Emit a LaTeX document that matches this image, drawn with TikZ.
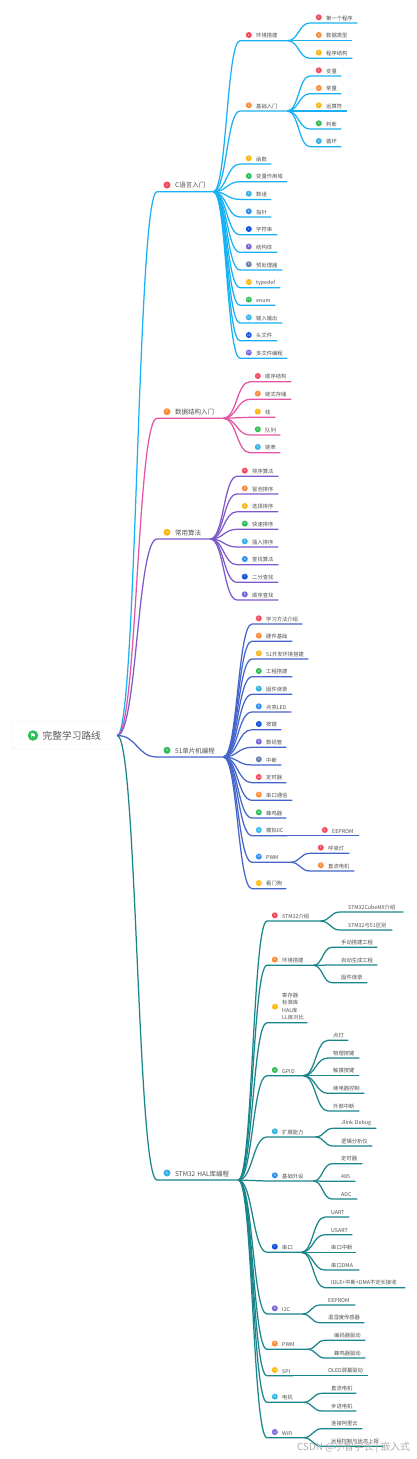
\documentclass[tikz,border=0pt]{standalone}
\usepackage{fontspec}
\setmainfont{Noto Sans CJK SC}
\newfontfamily\symbolfont{DejaVu Sans}
\usetikzlibrary{calc}

\definecolor{cred}{HTML}{F5495D}
\definecolor{corange}{HTML}{FB8C3C}
\definecolor{cyellow}{HTML}{FDB813}
\definecolor{cgreen}{HTML}{2FBE55}
\definecolor{clight}{HTML}{36B3E6}
\definecolor{cblue}{HTML}{2F8FF0}
\definecolor{cdark}{HTML}{1452E0}
\definecolor{cpurple}{HTML}{7A67D8}
\definecolor{cslate}{HTML}{6D7FA8}
\definecolor{wireC}{HTML}{18B2F4}
\definecolor{wireDS}{HTML}{E455A5}
\definecolor{wireAlgo}{HTML}{7F58CC}
\definecolor{wireMCU}{HTML}{4565CB}
\definecolor{wireHAL}{HTML}{1A858B}
\definecolor{inkgray}{HTML}{505050}

\tikzset{
    branch/.style={to path={let \p1=(\tikztostart), \p2=(\tikztotarget), \n1={\x1*.5+\x2*.5} in .. controls (\n1,\y1) and (\n1,\y2) .. (\tikztotarget)}},
    topic/.style={anchor=south west, inner xsep=0pt, inner ysep=2.2pt, align=left, text=inkgray, font=\fontsize{5.3}{7.6}\selectfont},
    headtopic/.style={topic, inner ysep=3pt, font=\fontsize{6.5}{8}\selectfont},
    dot/.style={circle, inner sep=0pt, minimum size=6pt, text=white, font=\fontsize{3.2}{3.2}\selectfont},
    wire/.style={line width=1.25pt}
}

% items with a numbered dot: id/start/end/y/colour/number/indent/text
\newcommand{\dotbranch}[3]{%
    \foreach \id/\xa/\xb/\yy/\bcol/\num/\ind/\txt in {#3}{
        \node[topic, text width={(\xb-\xa)*1pt}] (\id) at (\xa,\yy) {\hspace*{\ind pt}\txt};
        \node[dot, fill=\bcol] (\id dot) at ({\xa+\ind-7.2},{\yy-5.7}) {\num};
        \draw[wire, #2] (#1.south east) to[branch] (\id.south west) -- (\id.south east);
    }%
}
% items without a dot: id/start/end/y/indent/text
\newcommand{\plainbranch}[3]{%
    \foreach \id/\xa/\xb/\yy/\ind/\txt in {#3}{
        \node[topic, text width={(\xb-\xa)*1pt}] (\id) at (\xa,\yy) {\hspace*{\ind pt}\txt};
        \draw[wire, #2] (#1.south east) to[branch] (\id.south west) -- (\id.south east);
    }%
}

\begin{document}
\begin{tikzpicture}[x=1pt, y=-1pt]
    \useasboundingbox (0,0) rectangle (416,1459);
    \fill[white] (0,0) rectangle (416,1459);

    % --- Root ---
    \node[draw=black!8, fill=white, rounded corners=3pt, minimum width=105pt, minimum height=27pt, inner sep=0pt] (root) at (64.5,735.5) {};
    \node[circle, fill=cgreen, inner sep=0pt, minimum size=10.5pt, text=white, font=\symbolfont\fontsize{7}{7}\selectfont] (rootflag) at (33,735.5) {⚑};
    \node[anchor=west, inner sep=0pt, text=black!65, font=\fontsize{9.7}{11}\selectfont] (roottext) at (42.5,735.5) {完整学习路线};

    % --- Five main topics ---
    \node[headtopic, text width=56pt] (cstart) at (157,191.7) {\hspace*{18pt}C语言入门};
    \node[dot, minimum size=7pt, fill=cred] (cstartdot) at (167,185) {1};
    \draw[wire, wireC] (root.east) to[branch] (cstart.south west) -- (cstart.south east);

    \node[headtopic, text width=66pt] (dstruct) at (157,418.3) {\hspace*{18pt}数据结构入门};
    \node[dot, minimum size=7pt, fill=corange] (dstructdot) at (167,411.7) {2};
    \draw[wire, wireDS] (root.east) to[branch] (dstruct.south west) -- (dstruct.south east);

    \node[headtopic, text width=53pt] (algo) at (157,539) {\hspace*{18pt}常用算法};
    \node[dot, minimum size=7pt, fill=cyellow] (algodot) at (167,532.3) {3};
    \draw[wire, wireAlgo] (root.east) to[branch] (algo.south west) -- (algo.south east);

    \node[headtopic, text width=66pt] (mcu) at (157,757) {\hspace*{18pt}51单片机编程};
    \node[dot, minimum size=7pt, fill=cgreen] (mcudot) at (167,750.3) {4};
    \draw[wire, wireMCU] (root.east) to[branch] (mcu.south west) -- (mcu.south east);

    \node[headtopic, text width=81pt] (hal) at (157,1180) {\hspace*{18pt}STM32 HAL库编程};
    \node[dot, minimum size=7pt, fill=clight] (haldot) at (167,1173) {5};
    \draw[wire, wireHAL] (root.east) to[branch] (hal.south west) -- (hal.south east);

    % --- C language ---
    \dotbranch{cstart}{wireC}{
        cenv/240/287/40.7/cred/1/16/环境搭建,
        cbase/240/287/111/corange/2/16/基础入门,
        cfunc/240/271/164/cyellow/3/16/函数,
        cscope/240/287/181.7/cgreen/4/16/变量作用域,
        carray/240/271/199.4/clight/5/16/数组,
        cptr/240/271/217/cblue/6/16/指针,
        cstr/240/277/234.7/cdark/7/16/字符串,
        cstruct/240/277/252.3/cpurple/8/16/结构体,
        cpre/240/282/270/cslate/9/16/预处理器,
        ctype/240/280/287.7/cyellow/10/16/typedef,
        cenum/240/275/305.3/cgreen/11/16/enum,
        cio/240/282/323/clight/12/16/输入输出,
        chead/240/277/340.7/cdark/13/16/头文件,
        cmulti/240/287/358.3/cpurple/14/16/多文件编程}
    \dotbranch{cenv}{wireC}{
        cenva/310/357/23/cred/1/16/第一个程序,
        cenvb/310/352/40.7/corange/2/16/数据类型,
        cenvc/310/352/58.3/cyellow/3/16/程序结构}
    \dotbranch{cbase}{wireC}{
        cbasea/310/341/76/cred/1/16/变量,
        cbaseb/310/341/93.7/corange/2/16/常量,
        cbasec/310/347/111/cyellow/3/16/运算符,
        cbased/310/341/129/cgreen/4/16/判断,
        cbasee/310/341/146.7/clight/5/16/循环}

    % --- Data structures ---
    \dotbranch{dstruct}{wireDS}{
        dsa/250/291/381.7/cred/1/15/顺序结构,
        dsb/250/291/399.3/corange/2/15/链式存储,
        dsc/250/275/417.3/cyellow/3/15/栈,
        dsd/250/280/435/cgreen/4/15/队列,
        dse/250/280/452.7/clight/5/15/链表}

    % --- Algorithms ---
    \dotbranch{algo}{wireAlgo}{
        aga/237/278/476.3/cred/1/15/排序算法,
        agb/237/278/494/corange/2/15/冒泡排序,
        agc/237/278/511.7/cyellow/3/15/选择排序,
        agd/237/278/529.3/cgreen/4/15/快速排序,
        age/237/278/547/clight/5/15/插入排序,
        agf/237/278/564.7/cblue/6/15/查找算法,
        agg/237/278/582.3/cdark/7/15/二分查找,
        agh/237/278/600/cpurple/8/15/顺序查找}

    % --- 51 MCU ---
    \dotbranch{mcu}{wireMCU}{
        mcua/252/302/624/cred/1/14/学习方法介绍,
        mcub/252/292/641.3/corange/2/14/硬件基础,
        mcuc/252/308/659/cyellow/3/14/51开发环境搭建,
        mcud/252/292/676.7/cgreen/4/14/工程搭建,
        mcue/252/292/694.3/clight/5/14/固件烧录,
        mcuf/252/291/712/cblue/6/14/点亮LED,
        mcug/252/281/729.7/cdark/7/14/按键,
        mcuh/252/286/747.3/cpurple/8/14/数码管,
        mcui/252/281/765/cslate/9/14/中断,
        mcuj/252/286/782.7/cred/10/14/定时器,
        mcuk/252/292/800.3/corange/11/14/串口通信,
        mcul/252/286/818/cgreen/12/14/蜂鸣器,
        mcum/252/287/835.7/clight/13/14/模拟IIC,
        mcun/252/290/862.3/cblue/14/14/PWM,
        mcuo/252/286/888.7/cyellow/15/14/看门狗}
    \dotbranch{mcum}{wireMCU}{
        mcuma/287/359/835.7/cred/1/45/EEPROM}
    \dotbranch{mcun}{wireMCU}{
        mcuna/310/349/853.3/cred/1/18/呼吸灯,
        mcunb/310/354/871/corange/2/18/直流电机}

    % --- STM32 HAL ---
    \dotbranch{hal}{wireHAL}{
        hala/267/320/921/cred/1/15/STM32介绍,
        halb/267/313/965.3/corange/2/15/环境搭建,
        hald/267/303/1075.7/cgreen/4/15/GPIO,
        hale/267/315/1137/clight/5/15/扩展能力,
        half/267/313/1181/cblue/6/15/基础外设,
        halg/267/301/1252.3/cdark/7/15/串口,
        halh/267/302/1314/cpurple/8/15/I2C,
        hali/267/307/1349.3/corange/9/15/PWM,
        halj/267/293/1375.7/cyellow/10/15/SPI,
        halk/267/303/1402.3/clight/11/15/电机,
        hall/267/303/1437.7/cpurple/12/15/WiFi}
    \node[topic, text width=40pt] (halc) at (267,1022.7) {\hspace*{15pt}寄存器\\\hspace*{15pt}标准库\\\hspace*{15pt}HAL库\\\hspace*{15pt}LL库对比};
    \node[dot, fill=cyellow] (halcdot) at (275,1006.7) {3};
    \draw[wire, wireHAL] (hal.south east) to[branch] (halc.south west) -- (halc.south east);
    \plainbranch{hala}{wireHAL}{
        halaa/340/403/912/8/STM32CubeMX介绍,
        halab/340/392/930/8/STM32与51区别}
    \plainbranch{halb}{wireHAL}{
        halba/332/377/947.3/9/手动搭建工程,
        halbb/332/377/965/9/自动生成工程,
        halbc/332/367/982.7/9/固件烧录}
    \plainbranch{hald}{wireHAL}{
        halda/328/348/1040.3/5/点灯,
        haldb/328/359/1058/5/物理按键,
        haldc/328/359/1075.7/5/触摸按键,
        haldd/328/364/1093.3/5/继电器控制,
        halde/328/359/1111/5/外部中断}
    \plainbranch{hale}{wireHAL}{
        halea/333/376/1128.3/8/Jlink Debug,
        haleb/333/372/1146/8/逻辑分析仪}
    \plainbranch{half}{wireHAL}{
        halfa/332/362/1163.7/9/定时器,
        halfb/332/355/1181.3/9/485,
        halfc/332/357/1199/9/ADC}
    \plainbranch{halg}{wireHAL}{
        halga/325/349/1217/6/UART,
        halgb/325/352/1234.7/6/USART,
        halgc/325/356/1252.3/6/串口中断,
        halgd/325/359/1270/6/串口DMA,
        halge/325/405/1287.7/6/IDLE+中断+DMA不定长接收}
    \plainbranch{halh}{wireHAL}{
        halha/320/355/1305/8/EEPROM,
        halhb/320/364/1322.7/8/温湿度传感器}
    \plainbranch{hali}{wireHAL}{
        halia/325/365/1340.3/9/编码器驱动,
        halib/325/365/1358/9/蜂鸣器驱动}
    \plainbranch{halj}{wireHAL}{
        halja/293/368/1375.7/35/OLED屏幕驱动}
    \plainbranch{halk}{wireHAL}{
        halka/322/356/1393.3/9/直流电机,
        halkb/322/356/1411/9/步进电机}
    \plainbranch{hall}{wireHAL}{
        halla/322/362/1428.7/9/连接阿里云,
        hallb/322/383/1446.3/9/远程控制与状态上报}

    % --- Watermark ---
    \node[anchor=west, inner sep=0pt, text=black!32, font=\fontsize{9.8}{11}\selectfont] (mark) at (297,1448) {CSDN @小智学长 | 嵌入式};
\end{tikzpicture}
\end{document}
